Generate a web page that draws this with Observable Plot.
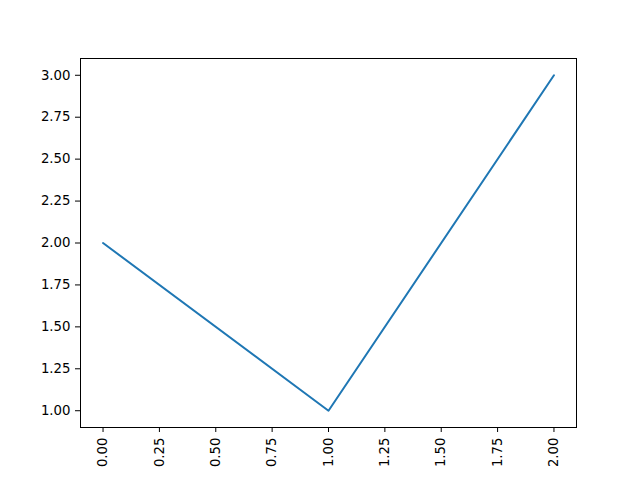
<!DOCTYPE html>
<html>
<head>
<meta charset="utf-8">
<script src="https://cdn.jsdelivr.net/npm/d3@7"></script>
<script src="https://cdn.jsdelivr.net/npm/@observablehq/plot@0.6"></script>
<style>
html, body { margin: 0; padding: 0; background: #fff; }
#chart { width: 640px; height: 480px; }
</style>
</head>
<body>
<div id="chart"></div>
<script>
const xValues = [0, 1, 2];
const yValues = [2, 1, 3];
const xTicks = [0, 0.25, 0.5, 0.75, 1, 1.25, 1.5, 1.75, 2];
const yTicks = [1, 1.25, 1.5, 1.75, 2, 2.25, 2.5, 2.75, 3];

const data = xValues.map((x, i) => ({x, y: yValues[i]}));
const fmt = d3.format(".2f");

const chart = Plot.plot({
  width: 640,
  height: 480,
  marginLeft: 80,
  marginRight: 64,
  marginTop: 58,
  marginBottom: 53,
  style: {fontFamily: "DejaVu Sans", fontSize: "13.3px", color: "#000", background: "#fff"},
  x: {domain: [-0.1, 2.1]},
  y: {domain: [0.9, 3.1]},
  marks: [
    Plot.line(data, {x: "x", y: "y", stroke: "#1f77b4", strokeWidth: 2}),
    Plot.frame({stroke: "#000", strokeWidth: 1}),
    Plot.axisX({ticks: xTicks, tickFormat: fmt, tickSize: 5, tickPadding: 5, tickRotate: -90, label: null, fontSize: 13.3}),
    Plot.axisY({ticks: yTicks, tickFormat: fmt, tickSize: 5, tickPadding: 5, label: null, fontSize: 13.3})
  ]
});
document.getElementById("chart").appendChild(chart);
</script>
</body>
</html>
